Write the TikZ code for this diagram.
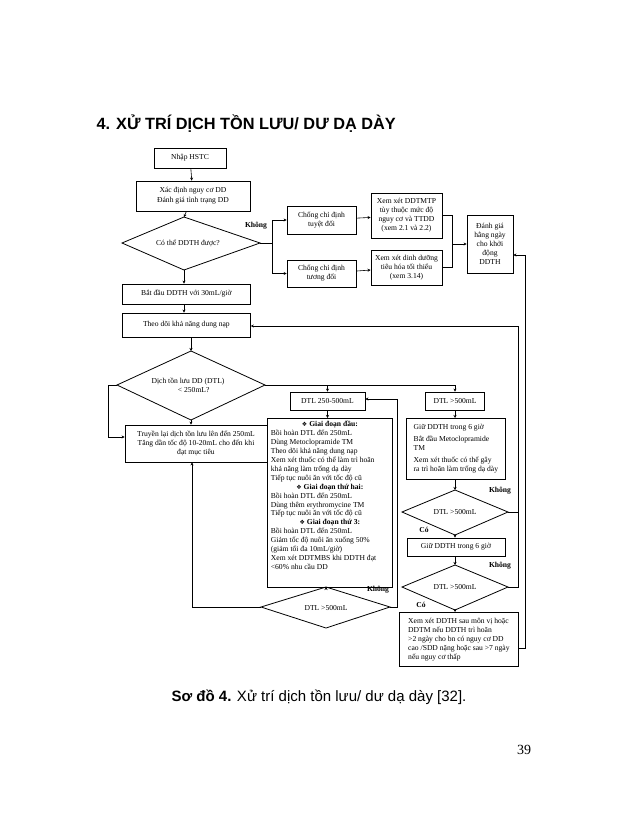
\documentclass[tikz,border=0pt]{standalone}
\usepackage{fontspec}
\setmainfont{Liberation Serif}
\newfontfamily\hsans{Liberation Sans}
\newfontfamily\dvs{DejaVu Sans}
\usetikzlibrary{arrows.meta}
\begin{document}
\begin{tikzpicture}[x=1pt,y=-1pt,
  bx/.style={draw,thick,align=center,font=\fontsize{7.6}{9}\selectfont,inner sep=1pt},
  dm/.style={draw,thick},
  ar/.style={-{Stealth[length=3pt,width=3pt]},semithick},
  ln/.style={semithick},
  lb/.style={font=\bfseries\fontsize{7.6}{9}\selectfont}]
\useasboundingbox (0,0) rectangle (638,826);
\node[anchor=west,font=\hsans\bfseries\fontsize{16.3}{19}\selectfont] (title) at (93,124) {4. XỬ TRÍ DỊCH TỒN LƯU/ DƯ DẠ DÀY};
% boxes
\node[bx,minimum width=72,minimum height=20] (n1) at (190,158) {Nhập HSTC};
\node[bx,minimum width=114,minimum height=30] (n2) at (193,196) {Xác định nguy cơ DD\\[1pt]Đánh giá tình trạng DD};
\draw[dm] (122,243) coordinate (d1w) -- (184,217) coordinate (d1n) -- (260,243) coordinate (d1e) -- (184,270) coordinate (d1s) -- cycle;
\node[font=\fontsize{7.6}{9}\selectfont] (d1) at (188,243) {Có thể DDTH được?};
\node[lb] (k1) at (256,226) {Không};
\node[bx,minimum width=69,minimum height=28] (c1) at (321.5,220) {Chống chỉ định\\tuyệt đối};
\node[bx,minimum width=69,minimum height=27] (c2) at (321.5,273.5) {Chống chỉ định\\tương đối};
\node[bx,minimum width=71,minimum height=45] (x1) at (406.5,215.5) {Xem xét DDTMTP\\tùy thuộc mức độ\\nguy cơ và TTDD\\(xem 2.1 và 2.2)};
\node[bx,minimum width=71,minimum height=35] (x2) at (406.5,267.5) {Xem xét dinh dưỡng\\tiêu hóa tối thiểu\\(xem 3.14)};
\node[bx,minimum width=46,minimum height=58] (dg) at (490,244) {Đánh giá\\hằng ngày\\cho khởi\\động\\DDTH};
\node[bx,minimum width=128,minimum height=20,anchor=west,align=left,inner sep=4pt] (b1) at (122,294) {Bắt đầu DDTH với 30mL/giờ};
\node[bx,minimum width=128,minimum height=24,anchor=west,align=left,inner sep=4pt] (t1) at (122,325) {Theo dõi khả năng dung nạp};
\draw[dm] (117,385) coordinate (d2w) -- (191,351) coordinate (d2n) -- (265,385) coordinate (d2e) -- (191,420) coordinate (d2s) -- cycle;
\node[font=\fontsize{7.6}{9}\selectfont,align=center] (d2) at (188,385) {Dịch tồn lưu DD (DTL)\\ \ \ \ \ \ \ < 250mL?};
\node[bx,minimum width=75,minimum height=18] (g1) at (327.5,401) {DTL 250-500mL};
\node[bx,minimum width=59,minimum height=18] (g2) at (455,401) {DTL >500mL};
\node[bx,minimum width=142,minimum height=37] (tr) at (196,443.5) {Truyền lại dịch tồn lưu lên đến 250mL\\Tăng dần tốc độ 10-20mL cho đến khi\\đạt mục tiêu};
\node[bx,minimum width=125,minimum height=160,align=left,anchor=north west,inner sep=3pt,font=\fontsize{7.6}{8.9}\selectfont] (gd) at (267,418) {%
\makebox[118pt][c]{{\dvs\fontsize{6}{8}\selectfont ❖} \textbf{Giai đoạn đầu:}}\\
Bồi hoàn DTL đến 250mL\\
Dùng Metoclopramide TM\\
Theo dõi khả năng dung nạp\\
Xem xét thuốc có thể làm trì hoãn\\
khả năng làm trống dạ dày\\
Tiếp tục nuôi ăn với tốc độ cũ\\
\makebox[118pt][c]{{\dvs\fontsize{6}{8}\selectfont ❖} \textbf{Giai đoạn thứ hai:}}\\
Bồi hoàn DTL đến 250mL\\
Dùng thêm erythromycine TM\\
Tiếp tục nuôi ăn với tốc độ cũ\\
\makebox[118pt][c]{{\dvs\fontsize{6}{8}\selectfont ❖} \textbf{Giai đoạn thứ 3:}}\\
Bồi hoàn DTL đến 250mL\\
Giảm tốc độ nuôi ăn xuống 50\%\\
(giảm tối đa 10mL/giờ)\\
Xem xét DDTMBS khi DDTH đạt\\
<60\% nhu cầu DD\\[6pt]};
\node[bx,minimum width=99,minimum height=61,align=left,anchor=north west,inner sep=3pt] (gr) at (406,418) {%
Giữ DDTH trong 6 giờ\\[3pt]
Bắt đầu Metoclopramide\\TM\\[3pt]
Xem xét thuốc có thể gây\\ra trì hoãn làm trống dạ dày};
\draw[dm] (402,512) coordinate (d3w) -- (455,490) coordinate (d3n) -- (508,512) coordinate (d3e) -- (455,535) coordinate (d3s) -- cycle;
\node[font=\fontsize{7.6}{9}\selectfont] (d3) at (455,512) {DTL >500mL};
\node[lb] (k3) at (500,491) {Không};
\node[lb] (c3) at (424,530) {Có};
\node[bx,minimum width=98,minimum height=18] (g6) at (456,547) {Giữ DDTH trong 6 giờ};
\draw[dm] (402,587) coordinate (d4w) -- (455,565) coordinate (d4n) -- (508,587) coordinate (d4e) -- (455,610) coordinate (d4s) -- cycle;
\node[font=\fontsize{7.6}{9}\selectfont] (d4) at (455,587) {DTL >500mL};
\node[lb] (k4) at (500,566) {Không};
\node[lb] (c4) at (421,605) {Có};
\node[bx,minimum width=119,minimum height=54,align=left,anchor=north west,inner sep=2pt] (fn) at (399,612) {%
Xem xét DDTH sau môn vị hoặc\\DDTM nếu DDTH trì hoãn\\>2 ngày cho bn có nguy cơ DD\\cao /SDD nặng hoặc sau >7 ngày\\nếu nguy cơ thấp};
\draw[dm] (261,607) coordinate (d5w) -- (326,587) coordinate (d5n) -- (390,607) coordinate (d5e) -- (326,628) coordinate (d5s) -- cycle;
\node[font=\fontsize{7.6}{9}\selectfont] (d5) at (326,608) {DTL >500mL};
\node[lb] (k5) at (378,590) {Không};
\node[font=\hsans\fontsize{15}{18}\selectfont] (cap) at (319,697) {\textbf{Sơ đồ 4.} Xử trí dịch tồn lưu/ dư dạ dày [32].};
\node[font=\fontsize{14}{16}\selectfont] (pg) at (524,750) {39};
% connectors
\draw[ar] (n1) -- (n2);
\draw[ar] (n2) -- (d1n);
\draw[ar] (d1s) -- (b1.north -| d1s);
\draw[ar] (b1.south -| d1s) -- (t1.north -| d1s);
\draw[ar] (t1.south -| d2n) -- (d2n);
\draw[ln] (d1e) -- (272,243) coordinate (j1);
\draw[ar] (j1) |- (c1.west);
\draw[ar] (j1) |- (c2.west);
\draw[ar] (c1) -- (x1);
\draw[ar] (c2) -- (x2);
\draw[ln] (x1.east) -- (452,215.5) coordinate (j2) -- (452,267.5) -- (x2.east);
\draw[ar] (j2 |- dg.west) -- (dg.west);
\draw[ar] (d2s) -- (tr.north -| d2s);
\draw[ar] (d2e) -| (g2.north);
\draw[ar] (g1.north |- d2e) -- (g1.north);
\draw[ar] (d2w) -- (108,385) coordinate (j3) -- (108,437) -- (tr.west |- 0,437);
\draw[ar] (g1) -- (gd.north -| g1);
\draw[ar] (g2) -- (gr.north -| g2);
\draw[ar] (gr.south -| d3n) -- (d3n);
\draw[ar] (d3s) -- (g6.north -| d3s);
\draw[ar] (g6.south -| d4n) -- (d4n);
\draw[ar] (d4s) -- (fn.north -| d4s);
\draw[ar] (gd.south -| d5n) -- (d5n);
\draw[ar] (d5e) -- (397,607) -- (397,399) -- (g1.east |- 0,399);
\draw[ar] (d5w) -- (192,607) -- (tr.south -| 192,0);
\draw[ln] (d3e) -- (518,512);
\draw[ar] (d4e) -- (518,587) -- (518,326) -- (t1.east |- 0,326);
\draw[ar] (fn.east |- 0,648) -- (525,648) -- (525,255) -- (dg.east |- 0,255);
\end{tikzpicture}
\end{document}
